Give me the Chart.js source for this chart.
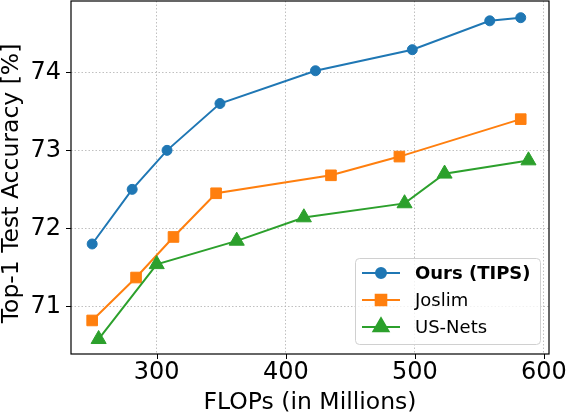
<!DOCTYPE html>
<html>
<head>
<meta charset="utf-8">
<script src="https://cdn.jsdelivr.net/npm/chart.js@4/dist/chart.umd.min.js"></script>
<style>
  html, body { margin: 0; padding: 0; background: #fff; }
  #wrap { width: 571px; height: 416px; }
</style>
</head>
<body>
<div id="wrap"><canvas id="chart" width="571" height="416"></canvas></div>
<script>
// values
const oursFlops = [250, 281, 308, 349, 423, 498, 558, 582];
const oursAcc = [71.8, 72.5, 73.0, 73.6, 74.02, 74.29, 74.66, 74.7];

const joslimFlops = [250, 284, 313, 346, 435, 488, 582];
const joslimAcc = [70.82, 71.37, 71.89, 72.45, 72.68, 72.92, 73.4];

const usnetsFlops = [255, 300, 362, 414, 492, 523, 588];
const usnetsAcc = [70.58, 71.54, 71.84, 72.14, 72.32, 72.7, 72.87];

const xTicks = [300, 400, 500, 600];
const yTicks = [71, 72, 73, 74];

const FONT = "'DejaVu Sans', sans-serif";
const Y_TITLE = 'Top-1 Test Accuracy [%]';

function toPoints(xs, ys) {
  return xs.map((x, i) => ({ x: x, y: ys[i] }));
}

// full black box, outward tick marks and the y title (sits a bit below centre in the original)
const framePlugin = {
  id: 'frame',
  afterDatasetsDraw(chart) {
    const { ctx, chartArea: a, scales } = chart;
    ctx.save();
    ctx.strokeStyle = '#000';
    ctx.lineWidth = 1.2;
    ctx.strokeRect(a.left, a.top, a.right - a.left, a.bottom - a.top);
    ctx.lineWidth = 1;
    ctx.beginPath();
    xTicks.forEach(v => {
      const px = Math.round(scales.x.getPixelForValue(v)) + 0.5;
      ctx.moveTo(px, a.bottom);
      ctx.lineTo(px, a.bottom + 5);
    });
    yTicks.forEach(v => {
      const py = Math.round(scales.y.getPixelForValue(v)) + 0.5;
      ctx.moveTo(a.left, py);
      ctx.lineTo(a.left - 5, py);
    });
    ctx.stroke();

    ctx.translate(12, (a.top + a.bottom) / 2 + 6);
    ctx.rotate(-Math.PI / 2);
    ctx.fillStyle = '#000';
    ctx.font = '23.5px ' + FONT;
    ctx.textAlign = 'center';
    ctx.textBaseline = 'middle';
    ctx.fillText(Y_TITLE, 0, 0);
    ctx.restore();
  }
};

// matplotlib-style legend: line through marker, first entry bold
const legendPlugin = {
  id: 'mplLegend',
  afterDraw(chart) {
    const { ctx, chartArea: a } = chart;
    const w = 185, h = 86;
    const left = a.right - 9 - w;
    const top = a.bottom - 10 - h;
    ctx.save();
    ctx.beginPath();
    ctx.roundRect(left + 0.5, top + 0.5, w, h, 4);
    ctx.fillStyle = 'rgba(255,255,255,0.8)';
    ctx.fill();
    ctx.strokeStyle = '#d0d0d0';
    ctx.lineWidth = 1;
    ctx.stroke();

    chart.data.datasets.forEach((ds, i) => {
      const cy = top + 15 + i * 27;
      ctx.strokeStyle = ds.borderColor;
      ctx.lineWidth = 2;
      ctx.beginPath();
      ctx.moveTo(left + 7, cy);
      ctx.lineTo(left + 45, cy);
      ctx.stroke();
      ctx.fillStyle = ds.backgroundColor;
      ctx.strokeStyle = ds.borderColor;
      Chart.helpers.drawPoint(ctx, {
        pointStyle: ds.pointStyle,
        radius: ds.pointRadius,
        borderWidth: 1
      }, left + 26, cy);
      ctx.fillStyle = '#000';
      ctx.textBaseline = 'middle';
      ctx.textAlign = 'left';
      ctx.font = (i === 0 ? 'bold ' : '') + '18px ' + FONT;
      ctx.fillText(ds.label, left + 60, cy + 1);
    });
    ctx.restore();
  }
};

const ctx = document.getElementById('chart').getContext('2d');
new Chart(ctx, {
  type: 'line',
  data: {
    datasets: [
      {
        label: 'Ours (TIPS)',
        data: toPoints(oursFlops, oursAcc),
        borderColor: '#1f77b4',
        backgroundColor: '#1f77b4',
        borderWidth: 2,
        pointStyle: 'circle',
        pointRadius: 5,
        pointBorderWidth: 1,
        order: 2
      },
      {
        label: 'Joslim',
        data: toPoints(joslimFlops, joslimAcc),
        borderColor: '#ff7f0e',
        backgroundColor: '#ff7f0e',
        borderWidth: 2,
        pointStyle: 'rect',
        pointRadius: 7.5,
        pointBorderWidth: 1,
        order: 1
      },
      {
        label: 'US-Nets',
        data: toPoints(usnetsFlops, usnetsAcc),
        borderColor: '#2ca02c',
        backgroundColor: '#2ca02c',
        borderWidth: 2,
        pointStyle: 'triangle',
        pointRadius: 8.7,
        pointBorderWidth: 1,
        order: 0
      }
    ]
  },
  options: {
    responsive: false,
    animation: false,
    events: [],
    layout: { autoPadding: false, padding: { top: 1, right: 22, left: 0, bottom: 0 } },
    plugins: {
      legend: { display: false },
      tooltip: { enabled: false }
    },
    scales: {
      x: {
        type: 'linear',
        min: 233.6,
        max: 603.9,
        afterBuildTicks: s => { s.ticks = xTicks.map(v => ({ value: v })); },
        afterFit: s => { s.height = 62; s.paddingLeft = 0; s.paddingRight = 0; },
        grid: { color: '#b0b0b0', lineWidth: 0.8, drawTicks: false },
        border: { display: false, dash: [1.5, 2] },
        ticks: {
          color: '#000',
          padding: 4,
          maxRotation: 0,
          font: { family: FONT, size: 24 }
        },
        title: {
          display: true,
          text: 'FLOPs (in Millions)',
          color: '#000',
          padding: 0,
          font: { family: FONT, size: 23.5, lineHeight: 1.13 }
        }
      },
      y: {
        type: 'linear',
        min: 70.39,
        max: 74.914,
        afterBuildTicks: s => { s.ticks = yTicks.map(v => ({ value: v })); },
        afterFit: s => { s.width = 71; s.paddingTop = 0; s.paddingBottom = 0; },
        grid: { color: '#b0b0b0', lineWidth: 0.8, drawTicks: false },
        border: { display: false, dash: [1.5, 2] },
        ticks: {
          color: '#000',
          padding: 10,
          font: { family: FONT, size: 24 }
        },
        title: { display: false }
      }
    }
  },
  plugins: [framePlugin, legendPlugin]
});
</script>
</body>
</html>
